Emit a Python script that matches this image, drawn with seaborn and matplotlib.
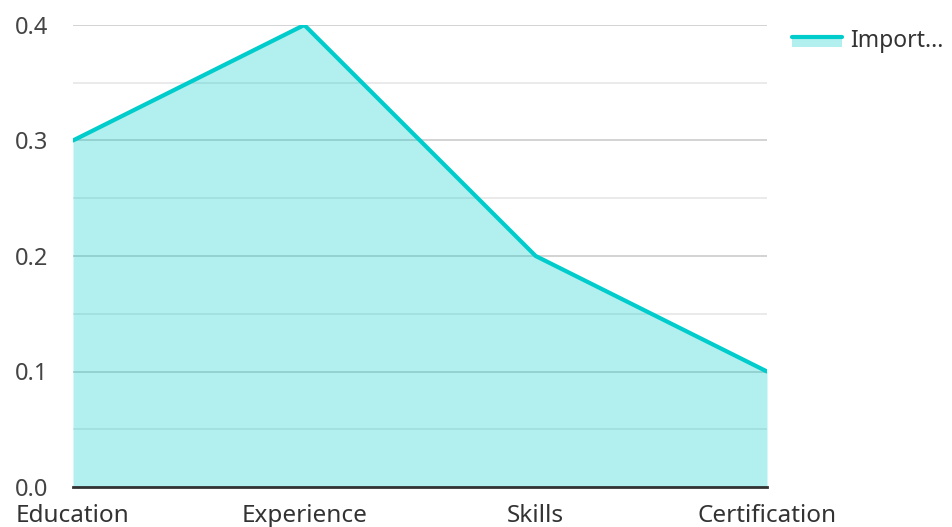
import pandas as pd
import matplotlib.pyplot as plt
import seaborn as sns
from matplotlib.legend_handler import HandlerBase
from matplotlib.patches import Rectangle
from matplotlib.lines import Line2D

# data
categories = ["Education", "Experience", "Skills", "Certification"]
importance = [0.3, 0.4, 0.2, 0.1]
y_ticks = [0.0, 0.1, 0.2, 0.3, 0.4]
series_label = "Import..."

df = pd.DataFrame({"factor": categories, "importance": importance})

line_color = "#00cccc"
fill_color = "#b2f0f0"

sns.set_style("white")
plt.rcParams["font.family"] = ["Noto Sans", "DejaVu Sans"]

fig = plt.figure(figsize=(9.52, 5.27), dpi=100)
ax = fig.add_axes([73 / 952, 1 - 487 / 527, (767 - 73) / 952, (487 - 25) / 527])

# gridlines (major every 0.1, minor every 0.05)
for i, t in enumerate(y_ticks):
    ax.axhline(t, color="#cccccc", lw=1.2, zorder=0)
    if i < len(y_ticks) - 1:
        ax.axhline(t + 0.05, color="#e6e6e6", lw=1.2, zorder=0)

xs = range(len(categories))
ax.fill_between(xs, df["importance"], color=line_color, alpha=0.3, lw=0, zorder=2)
sns.lineplot(data=df, x="factor", y="importance", color=line_color, lw=3, ax=ax,
             zorder=3, sort=False)

ax.set_xlim(0, len(categories) - 1)
ax.set_ylim(0, 0.4)
ax.set_yticks(y_ticks)
ax.set_yticklabels([f"{t:.1f}" for t in y_ticks])
ax.set_xlabel("")
ax.set_ylabel("")
ax.tick_params(axis="y", length=0, pad=18, labelsize=17, labelcolor="#444444")
ax.tick_params(axis="x", length=0, pad=12, labelsize=17.5, labelcolor="#333333")
for s in ["top", "right", "left"]:
    ax.spines[s].set_visible(False)
ax.spines["bottom"].set_color("#333333")
ax.spines["bottom"].set_linewidth(2)
ax.spines["bottom"].set_zorder(4)


class AreaHandler(HandlerBase):
    def create_artists(self, legend, orig_handle, xdescent, ydescent,
                       width, height, fontsize, trans):
        h = height * 0.8
        y0 = -ydescent + (height - h) / 2 - height * 0.1
        rect = Rectangle((-xdescent, y0), width, h * 0.8, facecolor=fill_color,
                         lw=0, transform=trans)
        line = Line2D([-xdescent, -xdescent + width], [y0 + h * 0.8] * 2,
                      color=line_color, lw=3, transform=trans)
        return [rect, line]


handle = Rectangle((0, 0), 1, 1)
fig.legend([handle], [series_label], handler_map={Rectangle: AreaHandler()},
           loc="upper left", bbox_to_anchor=(792 / 952, 0.945), frameon=False,
           borderpad=0, borderaxespad=0,
           fontsize=16.5, handlelength=2.2, handletextpad=0.35, labelcolor="#333333")

fig.savefig("out.png", dpi=100)
